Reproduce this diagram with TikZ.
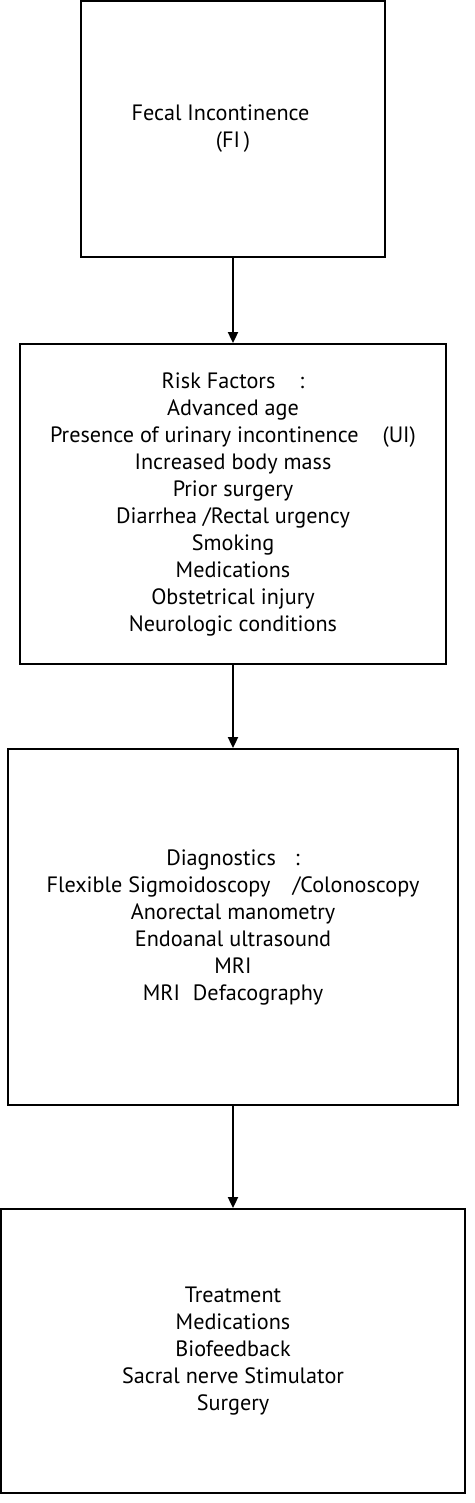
\documentclass[tikz,border=0pt]{standalone}
\usepackage{fontspec}
\setmainfont{PT Sans}
\usetikzlibrary{arrows.meta}
\begin{document}
\begin{tikzpicture}[x=1pt,y=-1pt,
  box/.style={draw=black,line width=1.8pt,inner sep=0pt,align=center,
    font=\fontsize{22.2}{27}\selectfont},
  conn/.style={line width=1.8pt,-{Triangle[width=10pt,length=11pt]}}]
\useasboundingbox (0,0) rectangle (474,1503);
\node[box,minimum width=304pt,minimum height=256pt] (b1) at (233,129)
  {Fecal Incontinence\hspace*{25pt}\\(FI\,)};
\node[box,minimum width=426pt,minimum height=320pt] (b2) at (233,504)
  {Risk Factors\hspace*{24pt}:\\Advanced age\\Presence of urinary incontinence\hspace*{24pt}(UI)\\Increased body mass\\Prior surgery\\Diarrhea /Rectal urgency\\Smoking\\Medications\\Obstetrical injury\\Neurologic conditions};
\node[box,minimum width=450pt,minimum height=356pt] (b3) at (233,927)
  {Diagnostics\hspace*{19pt}:\\Flexible Sigmoidoscopy\hspace*{22pt}/Colonoscopy\\Anorectal manometry\\Endoanal ultrasound\\MRI\\MRI\hspace*{13pt}Defacography};
\node[box,minimum width=464pt,minimum height=284pt] (b4) at (233,1351)
  {Treatment\\Medications\\Biofeedback\\Sacral nerve Stimulator\\Surgery};
\draw[conn] (b1.south) -- (b2.north);
\draw[conn] (b2.south) -- (b3.north);
\draw[conn] (b3.south) -- (b4.north);
\end{tikzpicture}
\end{document}
